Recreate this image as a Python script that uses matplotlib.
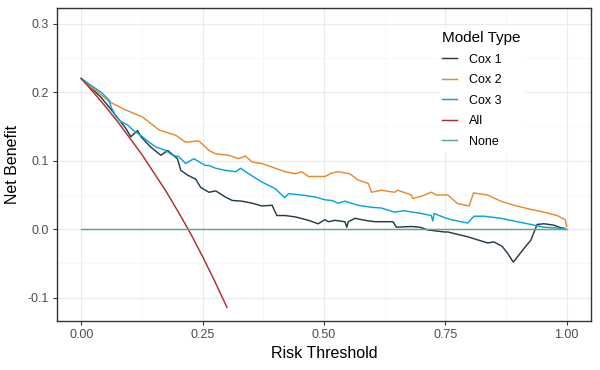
import matplotlib
matplotlib.use("Agg")
import matplotlib.pyplot as plt
import numpy as np

plt.rcParams['font.family'] = ['Liberation Sans', 'DejaVu Sans']

# Values
cox1_x = [0.0, 0.02, 0.04, 0.06, 0.08, 0.092, 0.102, 0.116, 0.123, 0.143, 0.164, 0.178, 0.198,
          0.205, 0.219, 0.236, 0.246, 0.263, 0.277, 0.297, 0.311, 0.331, 0.352, 0.372, 0.393,
          0.403, 0.420, 0.441, 0.468, 0.488, 0.502, 0.509, 0.523, 0.543, 0.547, 0.550, 0.564,
          0.584, 0.605, 0.642, 0.649, 0.680, 0.697, 0.714, 0.748, 0.755, 0.796, 0.837, 0.850,
          0.867, 0.878, 0.890, 0.912, 0.926, 0.939, 0.953, 0.973, 0.987, 0.997]
cox1_y = [0.220, 0.207, 0.193, 0.176, 0.158, 0.147, 0.135, 0.144, 0.135, 0.120, 0.108, 0.115, 0.103,
          0.086, 0.079, 0.073, 0.061, 0.054, 0.056, 0.047, 0.042, 0.041, 0.038, 0.034, 0.035,
          0.020, 0.020, 0.018, 0.013, 0.008, 0.014, 0.011, 0.013, 0.011, 0.003, 0.011, 0.016,
          0.013, 0.011, 0.011, 0.003, 0.004, 0.003, -0.001, -0.004, -0.004, -0.011, -0.020, -0.0185,
          -0.025, -0.035, -0.048, -0.028, -0.016, 0.007, 0.008, 0.006, 0.0025, 0.001]

cox2_x = [0.0, 0.015, 0.031, 0.058, 0.092, 0.126, 0.160, 0.195, 0.215, 0.242, 0.256, 0.263, 0.277,
          0.304, 0.324, 0.338, 0.352, 0.372, 0.400, 0.420, 0.441, 0.454, 0.468, 0.502, 0.516,
          0.529, 0.553, 0.570, 0.591, 0.598, 0.618, 0.645, 0.652, 0.680, 0.683, 0.700, 0.721,
          0.731, 0.755, 0.775, 0.799, 0.808, 0.837, 0.864, 0.891, 0.926, 0.953, 0.980, 0.997, 1.0]
cox2_y = [0.220, 0.210, 0.202, 0.186, 0.174, 0.164, 0.145, 0.137, 0.127, 0.129, 0.120, 0.115, 0.110,
          0.108, 0.103, 0.107, 0.098, 0.096, 0.089, 0.084, 0.081, 0.084, 0.077, 0.077, 0.082,
          0.084, 0.081, 0.072, 0.067, 0.054, 0.057, 0.054, 0.057, 0.050, 0.045, 0.048, 0.054,
          0.050, 0.050, 0.0375, 0.034, 0.053, 0.050, 0.041, 0.035, 0.029, 0.025, 0.020, 0.014, 0.004]

cox3_x = [0.0, 0.020, 0.041, 0.058, 0.061, 0.072, 0.082, 0.096, 0.106, 0.126, 0.140, 0.154, 0.174,
          0.188, 0.201, 0.215, 0.232, 0.256, 0.263, 0.277, 0.297, 0.318, 0.328, 0.345, 0.372,
          0.400, 0.419, 0.427, 0.454, 0.482, 0.502, 0.516, 0.529, 0.543, 0.570, 0.598, 0.618,
          0.645, 0.666, 0.700, 0.721, 0.724, 0.727, 0.748, 0.762, 0.796, 0.809, 0.830, 0.864,
          0.891, 0.926, 0.953, 0.997]
cox3_y = [0.220, 0.210, 0.200, 0.188, 0.179, 0.164, 0.157, 0.152, 0.145, 0.135, 0.127, 0.120, 0.115,
          0.108, 0.106, 0.096, 0.103, 0.093, 0.093, 0.089, 0.086, 0.084, 0.089, 0.081, 0.069,
          0.059, 0.046, 0.052, 0.050, 0.047, 0.043, 0.042, 0.038, 0.041, 0.035, 0.032, 0.031,
          0.025, 0.027, 0.023, 0.020, 0.012, 0.023, 0.017, 0.014, 0.009, 0.019, 0.019, 0.016,
          0.012, 0.007, 0.003, 0.001]

all_x = [0.0, 0.025, 0.05, 0.075, 0.10, 0.125, 0.15, 0.175, 0.20, 0.225, 0.25, 0.275, 0.30]
all_y = [0.220, 0.200, 0.179, 0.157, 0.133, 0.109, 0.082, 0.055, 0.025, -0.006, -0.040, -0.076, -0.114]

none_x = [0.0, 1.0]
none_y = [0.0, 0.0]

series = [
    ("Cox 1", cox1_x, cox1_y, "#263C48"),
    ("Cox 2", cox2_x, cox2_y, "#E88B2F"),
    ("Cox 3", cox3_x, cox3_y, "#0AA3DB"),
    ("All", all_x, all_y, "#B22D2D"),
    ("None", none_x, none_y, "#5FA98A"),
]

fig = plt.figure(figsize=(6, 3.7), dpi=100)
ax = fig.add_axes([0.095, 0.132, 0.89, 0.846])

for name, xs, ys, col in series:
    ax.plot(xs, ys, color=col, lw=1.05, label=name)

ax.set_xlim(-0.05, 1.05)
ax.set_ylim(-0.1342, 0.3228)
ax.set_xticks([0, 0.25, 0.5, 0.75, 1.0])
ax.set_xticklabels(["0.00", "0.25", "0.50", "0.75", "1.00"])
ax.set_yticks([-0.1, 0.0, 0.1, 0.2, 0.3])
ax.set_yticklabels(["-0.1", "0.0", "0.1", "0.2", "0.3"])
ax.set_xticks(np.arange(0.125, 1.0, 0.25), minor=True)
ax.set_yticks(np.arange(-0.05, 0.31, 0.1), minor=True)

ax.grid(which='major', color='#EBEBEB', lw=0.9)
ax.grid(which='minor', color='#F4F4F4', lw=0.5)
ax.set_axisbelow(True)
ax.tick_params(which='minor', length=0)
ax.tick_params(which='major', length=3, color='#333333', width=0.8,
               labelsize=9, labelcolor='#4D4D4D', pad=3)
for sp in ax.spines.values():
    sp.set_color('#333333')
    sp.set_linewidth(1.0)

ax.set_xlabel("Risk Threshold", fontsize=11.5, color='black', labelpad=3)
ax.set_ylabel("Net Benefit", fontsize=11.5, color='black', labelpad=5)

leg = ax.legend(title="Model Type", loc='upper left', bbox_to_anchor=(0.703, 0.958),
                frameon=True, fontsize=9, title_fontsize=11, handlelength=1.2,
                labelspacing=0.68, handletextpad=0.9, borderpad=0.3)
leg.get_frame().set_facecolor('white')
leg.get_frame().set_edgecolor('none')
leg.get_frame().set_alpha(1.0)
leg._legend_box.align = "left"

fig.savefig("out.png", dpi=100)
